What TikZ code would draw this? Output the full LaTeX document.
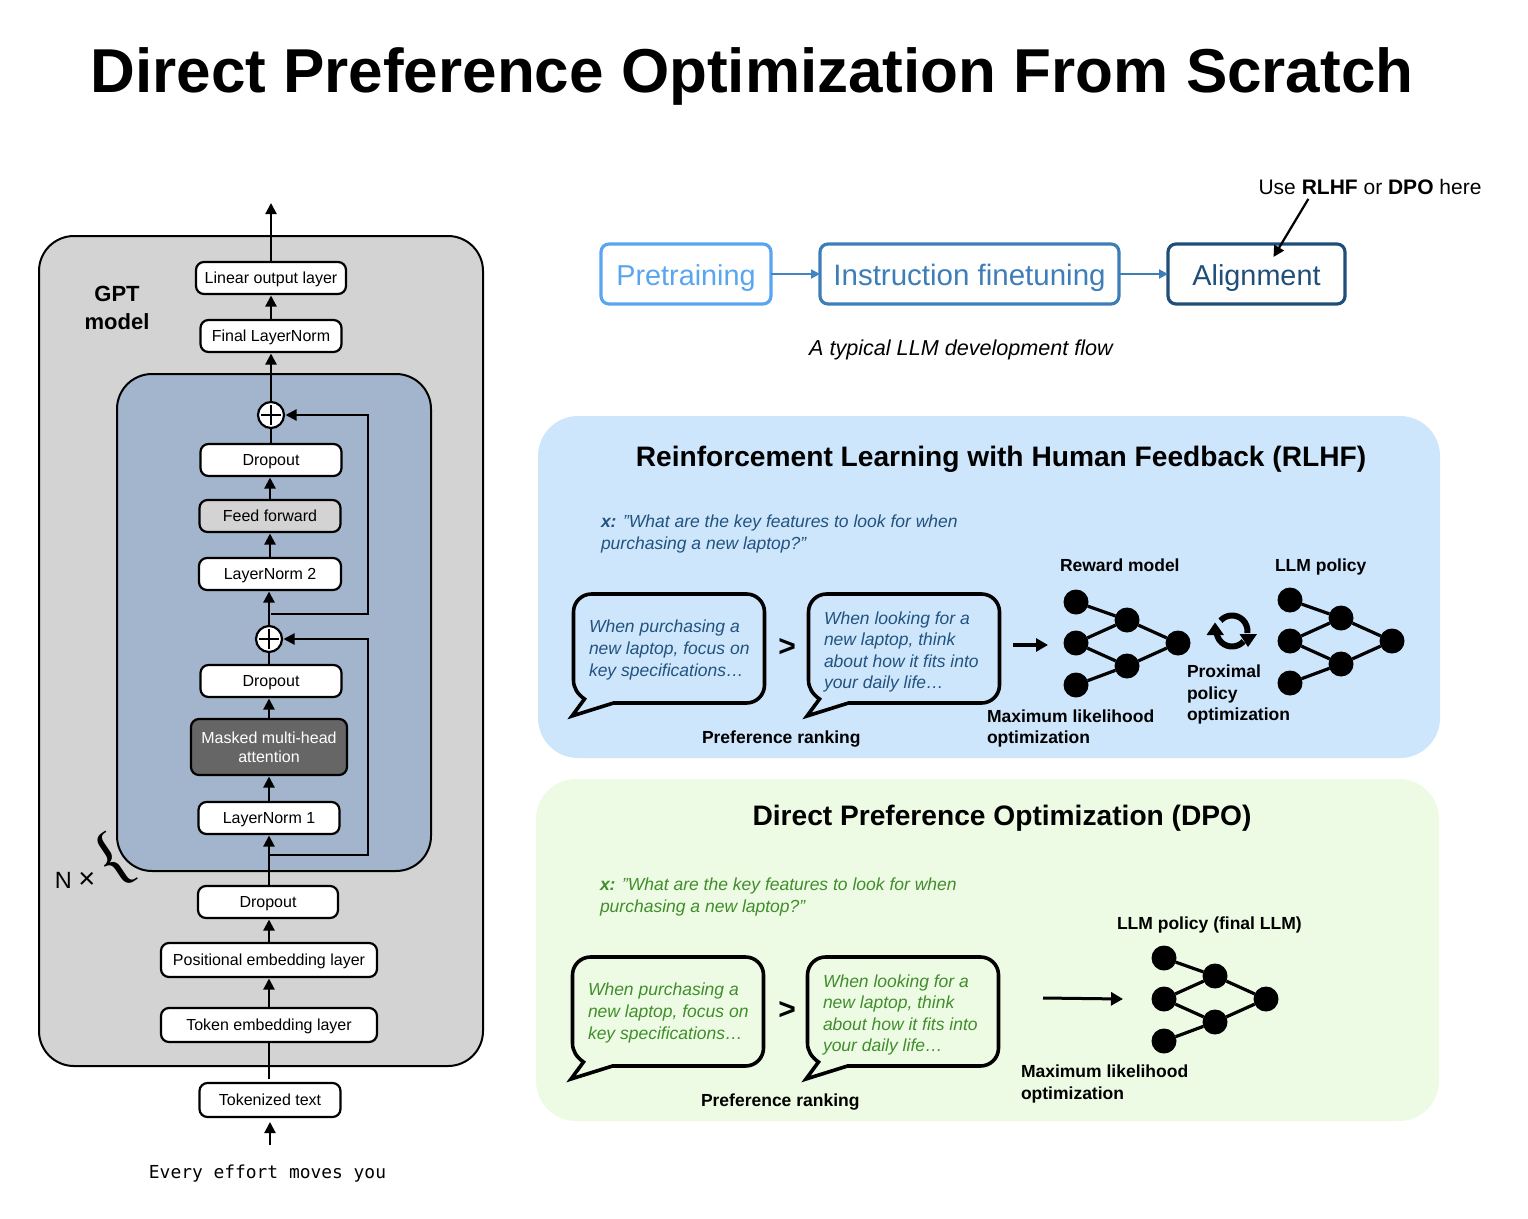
\documentclass[tikz,border=0pt]{standalone}
\usepackage{fontspec}
\setmainfont{Liberation Sans}
\setmonofont{DejaVu Sans Mono}
\newfontfamily\bracefont{Liberation Serif}
\usetikzlibrary{arrows.meta,positioning}
\definecolor{gptgray}{HTML}{D3D3D3}
\definecolor{trfblue}{HTML}{A2B5CC}
\definecolor{darkbox}{HTML}{666666}
\definecolor{flowa}{HTML}{5AA5EF}
\definecolor{flowb}{HTML}{3D7DB8}
\definecolor{flowc}{HTML}{1F4E79}
\definecolor{rlhfbg}{HTML}{CDE6FC}
\definecolor{dpobg}{HTML}{EEFBE4}
\definecolor{rlhftxt}{HTML}{22527F}
\definecolor{dpotxt}{HTML}{3F8E2B}
\tikzstyle{block}=[rectangle, draw, fill=white, line width=2.2pt, rounded corners=8pt, inner sep=0, outer sep=0, minimum height=32pt, font=\fontsize{16}{19}\selectfont, align=center, text height=14.5pt, text depth=3.5pt]
\tikzstyle{addn}=[circle, draw, fill=white, line width=2.2pt, inner sep=0, outer sep=0, minimum size=26pt, path picture={\draw[line width=1.4pt] (path picture bounding box.center) +(-10pt,0) -- +(10pt,0) +(0,-10pt) -- +(0,10pt);}]
\tikzstyle{frame}=[rectangle, draw, line width=2pt, rounded corners=35pt, inner sep=0, outer sep=0]
\tikzstyle{panel}=[rectangle, rounded corners=40pt, inner sep=0, outer sep=0, minimum width=902pt, minimum height=342pt]
\tikzstyle{flow}=[rectangle, draw, line width=3.2pt, rounded corners=8pt, inner sep=0, outer sep=0, minimum height=60pt, font=\fontsize{28.8}{32}\selectfont, text height=28pt, text depth=6pt]
\tikzstyle{arr}=[-{Triangle[length=11pt,width=11pt]}, line width=2.2pt, shorten >=1.5pt]
\tikzstyle{neuron}=[circle, fill=black, inner sep=0, outer sep=0, minimum size=25pt]
\tikzstyle{lbl}=[inner sep=0, outer sep=0, align=left, anchor=north west, font=\fontsize{17.5}{21.6}\selectfont\bfseries]
\tikzstyle{query}=[inner sep=0, outer sep=0, align=left, anchor=north west, font=\fontsize{17.5}{21.6}\selectfont\itshape]
\tikzstyle{heading}=[inner sep=0, outer sep=0, font=\fontsize{28.15}{32}\selectfont\bfseries]

\newcommand{\speechbubble}[6]{%
	\draw[line width=3.6pt, line join=miter] (#2+40,#3+109) -- (#2-1.5,#3+122) -- (#2+11,#3+105)
		.. controls (#2+4,#3+100) and (#2,#3+94) .. (#2,#3+86)
		[rounded corners=18pt] -- (#2,#3) -- (#2+191,#3) -- (#2+191,#3+109) [sharp corners] -- cycle;
	\node[query, anchor=west, text=#4] (#1) at (#2+15.5,#3+#5) {#6};
}
\newcommand{\netgraph}[3]{%
	\begin{scope}[shift={(#2,#3)}]
		\node[neuron] (#1a) at (0,0) {};
		\node[neuron] (#1b) at (0,41) {};
		\node[neuron] (#1c) at (0,83) {};
		\node[neuron] (#1d) at (51,18) {};
		\node[neuron] (#1e) at (51,64) {};
		\node[neuron] (#1f) at (102,41) {};
		\draw[line width=3.2pt] (#1a) -- (#1d) -- (#1b) -- (#1e) -- (#1c);
		\draw[line width=3.2pt] (#1d) -- (#1f) -- (#1e);
	\end{scope}
}

\begin{document}
\begin{tikzpicture}[x=1pt,y=-1pt]
	\useasboundingbox (0,0) rectangle (1528,1218);

	\node[inner sep=0, font=\fontsize{62}{70}\selectfont\bfseries] (title) at (752,76) {Direct Preference Optimization From Scratch};

	% GPT model column
	\node[frame, fill=gptgray, minimum width=444pt, minimum height=830pt] (gpt) at (261,651) {};
	\node[frame, fill=trfblue, minimum width=314pt, minimum height=497pt] (trf) at (274,622.5) {};
	\node[inner sep=0, align=center, font=\fontsize{22}{28}\selectfont\bfseries] (gptlbl) at (117,308) {GPT\\model};

	\node[block, minimum width=141pt, minimum height=34pt] (tokd) at (270,1100) {Tokenized text};
	\node[block, minimum width=216pt, minimum height=34pt, above=41pt of tokd, xshift=-1pt] (tok) {Token embedding layer};
	\node[block, minimum width=216pt, minimum height=34pt, above=31pt of tok] (pos) {Positional embedding layer};
	\node[block, minimum width=140pt, above=25pt of pos, xshift=-1pt] (drop3) {Dropout};
	\node[block, minimum width=141pt, above=52pt of drop3, xshift=1pt] (ln1) {LayerNorm 1};
	\node[block, minimum width=156pt, minimum height=56pt, above=27pt of ln1, fill=darkbox, text=white, text height=, text depth=] (msa) {Masked multi-head\\attention};
	\node[block, minimum width=141pt, above=22pt of msa, xshift=2pt] (drop2) {Dropout};
	\node[addn, above=13pt of drop2, xshift=-2pt] (plus2) {};
	\node[block, minimum width=142pt, above=36pt of plus2, xshift=1pt] (ln2) {LayerNorm 2};
	\node[block, minimum width=141pt, above=26pt of ln2, fill=gptgray] (ff) {Feed forward};
	\node[block, minimum width=141pt, above=24pt of ff, xshift=1pt] (drop1) {Dropout};
	\node[addn, above=16pt of drop1] (plus1) {};
	\node[block, minimum width=141pt, above=50pt of plus1] (fnorm) {Final LayerNorm};
	\node[block, minimum width=150pt, above=26pt of fnorm] (lin) {Linear output layer};
	\node[inner sep=0, font=\fontsize{17.9}{21}\selectfont\ttfamily] (inp) at (267.5,1174) {Every effort moves you};

	\coordinate (outp) at (271,203);
	\coordinate (skipa) at (271,614);
	\coordinate (skipb) at (269,855);

	\draw[arr, shorten >=0pt] (lin.north) -- (outp);
	\draw[arr] (fnorm.north) -- (lin.south);
	\draw[arr] (plus1.north) -- (fnorm.south);
	\draw[line width=2.2pt] (drop1.north) -- (plus1.south);
	\draw[arr] (ff.north) -- (ff.north|-drop1.south);
	\draw[arr] (ln2.north) -- (ln2.north|-ff.south);
	\draw[arr] (plus2.north) -- (plus2.north|-ln2.south);
	\draw[line width=2.2pt] (plus2.south) -- (plus2.south|-drop2.north);
	\draw[arr] (msa.north) -- (msa.north|-drop2.south);
	\draw[arr] (ln1.north) -- (ln1.south|-msa.south);
	\draw[arr] (ln1.south|-drop3.north) -- (ln1.south);
	\draw[arr] (pos.north) -- (pos.north|-drop3.south);
	\draw[arr] (tok.north) -- (pos.south);
	\draw[line width=2.2pt, shorten <=4pt] (tok.south|-tokd.north) -- (tok.south);
	\draw[arr, shorten <=20pt, shorten >=5pt] (inp.north-|tokd) -- (tokd.south);
	\draw[arr] (skipa) -- (368,614) -- (368,415) -- (plus1.east);
	\draw[arr] (skipb) -- (368,855) -- (368,639) -- (plus2.east);

	\node[inner sep=0, font=\fontsize{23.5}{28}\selectfont] (ntimes) at (75,880) {N {\fontsize{29}{30}\selectfont ×}};
	\node[inner sep=0, rotate=34, font=\fontsize{70}{70}\selectfont\bracefont] (brace) at (113,861) {\{};

	% development flow
	\node[flow, draw=flowa, text=flowa, minimum width=170pt] (pre) at (686,274) {Pretraining};
	\node[flow, draw=flowb, text=flowb, minimum width=299pt, right=49pt of pre, font=\fontsize{29.5}{32}\selectfont] (ins) {Instruction finetuning};
	\node[flow, draw=flowc, text=flowc, minimum width=177pt, right=49pt of ins] (ali) {Alignment};
	\draw[-{Triangle[length=9pt,width=9pt]}, line width=2pt, draw=flowb!80!flowa, fill=flowb!80!flowa] (pre.east) -- (ins.west);
	\draw[-{Triangle[length=9pt,width=9pt]}, line width=2pt, draw=flowb, fill=flowb] (ins.east) -- (ali.west);
	\node[inner sep=0, font=\fontsize{21.6}{25}\selectfont\itshape] (flowcap) at (961,349.5) {A typical LLM development flow};
	\node[inner sep=0, font=\fontsize{21}{25}\selectfont] (hint) at (1370,187) {Use \textbf{RLHF} or \textbf{DPO} here};
	\draw[arr, shorten >=0pt] ([xshift=50pt,yshift=-4pt]hint.south west) -- ([xshift=17pt,yshift=-13pt]ali.north);

	% RLHF panel
	\node[panel, fill=rlhfbg] (rlhf) at (989,587) {};
	\node[heading] (rlhfhead) at (1001,459) {Reinforcement Learning with Human Feedback (RLHF)};
	\node[query, text=rlhftxt] (rlhfq) at (601,515) {\textbf{x:} "What are the key features to look for when\\purchasing a new laptop?"};
	\speechbubble{rlhfa}{573.5}{594}{rlhftxt}{56}{When purchasing a\\new laptop, focus on\\key specifications\dots}
	\speechbubble{rlhfb}{808.5}{594}{rlhftxt}{58}{When looking for a\\new laptop, think\\about how it fits into\\your daily life\dots}
	\node[inner sep=0, font=\fontsize{30}{32}\selectfont\bfseries] (rlhfgt) at (787,647) {>};
	\node[lbl] (rlhfrank) at (702,731) {Preference ranking};
	\node[lbl] (rlhfml) at (987,709.5) {Maximum likelihood\\optimization};
	\node[lbl] (rlhfrew) at (1060,559) {Reward model};
	\node[lbl] (rlhfpol) at (1275,559) {LLM policy};
	\node[lbl] (rlhfppo) at (1187,665) {Proximal\\policy\\optimization};
	\netgraph{rew}{1076}{602}
	\netgraph{pol}{1290}{600}
	\coordinate (rlhfs) at (1013,645);
	\coordinate (rlhfe) at (1048,645);
	\draw[-{Triangle[length=12pt,width=13pt]}, line width=3.2pt] (rlhfs) -- (rlhfe);
	\draw[line width=6pt] (1232,631) ++(-138:15.5) arc[start angle=-138, end angle=8, radius=15.5];
	\draw[line width=6pt] (1232,631) ++(42:15.5) arc[start angle=42, end angle=185, radius=15.5];
	\fill (1239.5,634) -- (1257,634) -- (1248,647) -- cycle;
	\fill (1206.5,635) -- (1224,635) -- (1215,622.5) -- cycle;

	% DPO panel
	\node[panel, fill=dpobg, minimum width=903pt] (dpo) at (987.5,950) {};
	\node[heading] (dpohead) at (1002,818) {Direct Preference Optimization (DPO)};
	\node[query, text=dpotxt] (dpoq) at (600,878) {\textbf{x:} "What are the key features to look for when\\purchasing a new laptop?"};
	\speechbubble{dpoa}{572.5}{957}{dpotxt}{56}{When purchasing a\\new laptop, focus on\\key specifications\dots}
	\speechbubble{dpob}{807.5}{957}{dpotxt}{58}{When looking for a\\new laptop, think\\about how it fits into\\your daily life\dots}
	\node[inner sep=0, font=\fontsize{30}{32}\selectfont\bfseries] (dpogt) at (787,1010) {>};
	\node[lbl] (dporank) at (701,1094) {Preference ranking};
	\node[lbl] (dpoml) at (1021,1065) {Maximum likelihood\\optimization};
	\node[lbl] (dpopol) at (1117,917) {LLM policy (final LLM)};
	\netgraph{fin}{1164}{958}
	\coordinate (dpos) at (1043,998);
	\coordinate (dpoe) at (1123,999);
	\draw[-{Triangle[length=12pt,width=13pt]}, line width=3pt] (dpos) -- (dpoe);
\end{tikzpicture}
\end{document}
